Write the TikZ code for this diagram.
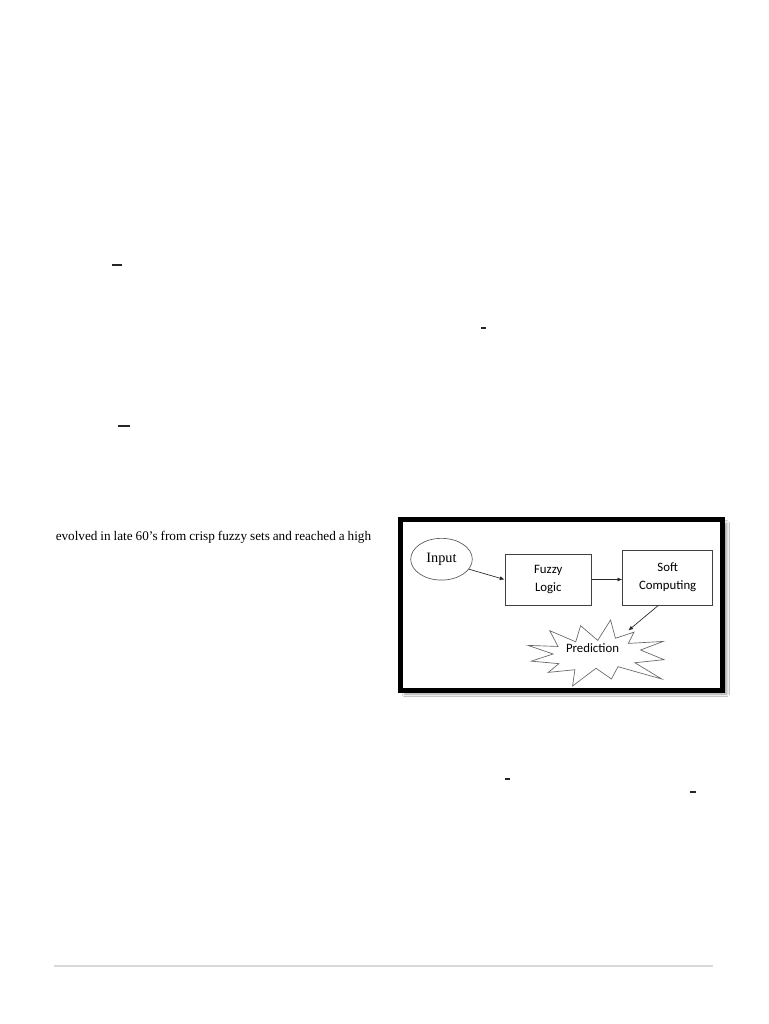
\documentclass[tikz,border=0pt]{standalone}
\usepackage{fontspec}
\setmainfont{Liberation Serif}
\newfontfamily\calibri{Carlito}
\usetikzlibrary{shadows,shadows.blur}
\usetikzlibrary{positioning}
\usetikzlibrary{arrows,arrows.meta,shapes}
\usetikzlibrary{calc}
\tikzstyle{stagebox}=[rectangle,draw=black!75,line width=0.6pt,align=center,inner sep=0pt,font=\calibri\fontsize{9.6}{13.8}\selectfont]
\tikzstyle{inputnode}=[ellipse,draw=black!65,line width=0.5pt,inner sep=0pt,minimum width=46.2pt,minimum height=31.3pt,font=\fontsize{10.7}{12}\selectfont]
\tikzstyle{flow}=[-{Latex[length=3.6pt,width=3pt]},line width=0.5pt,draw=black!85]
\tikzstyle{dashmark}=[line width=1.1pt,black!85]

\begin{document}
\begin{tikzpicture}[x=0.75pt,y=-0.75pt]

   \fill[white] (0,0) rectangle (768,1024);
   \useasboundingbox (0,0) rectangle (768,1024);

% stray dashes of the page
    \foreach \xa/\xb/\yy in {112/122/265, 481/486/328, 118/130/426, 505/510/779, 690/696/792}
        \draw[dashmark] (\xa,\yy) -- (\xb,\yy);

  \node[anchor=base west,inner sep=0pt] (line) at (55.5,540.7)
     {\fontsize{9.9}{12}\selectfont\makebox[236.5pt][s]{evolved in late 60’s from crisp fuzzy sets and reached a high}};

  \draw[black!15,line width=0.8pt] (54,966) -- (713,966);

% the figure
   \draw[fill=white,line width=3.75pt,blur shadow={shadow xshift=3pt,shadow yshift=-3pt,shadow blur steps=6,shadow blur radius=2pt,shadow opacity=40}] (400.8,519.2) rectangle (722.8,690);

  \node[inputnode] (input) at (441.5,559.2) {Input};
  \node[stagebox,minimum width=65pt,minimum height=38.2pt] (fuzzy) at (548.3,579.5) {Fuzzy\\Logic};
  \node[stagebox,minimum width=67.5pt,minimum height=41.2pt] (soft) at (667.7,577.5) {Soft\\Computing};

  \begin{scope}[shift={(664,686)},xscale=-0.6296,yscale=-0.3056]
   \draw[black!60,line width=0.5pt,fill=white] (108,58) -- (145.22,0) -- (141.55,53.25) -- (183.80,44.57) -- (167.02,73.15) -- (210.97,81.37) -- (176.07,104.75) -- (216,132.90) -- (168.37,129.42) -- (181.45,180.95) -- (140.20,144.57) -- (132.47,197.37) -- (105.32,149.35) -- (84.85,216) -- (77.15,156.27) -- (47.62,176.17) -- (56.67,139.37) -- (1.35,145.87) -- (37.22,117.75) -- (0,86.15) -- (46.27,76.17) -- (3.70,22.95) -- (73.12,63.20) -- (83.52,22.95) -- cycle;
  \end{scope}
  \node[font=\calibri\fontsize{9.6}{12}\selectfont,inner sep=1pt] (pred) at (592.5,648.5) {Prediction};
  \coordinate (predtip) at (628.3,630.5);

    \draw[flow] (input.-20) -- (fuzzy.west);
    \draw[flow] (fuzzy.east) -- (fuzzy.east -| soft.west);
    \draw[flow] ([xshift=-7pt]soft.south) -- (predtip);

\end{tikzpicture}
\end{document}
